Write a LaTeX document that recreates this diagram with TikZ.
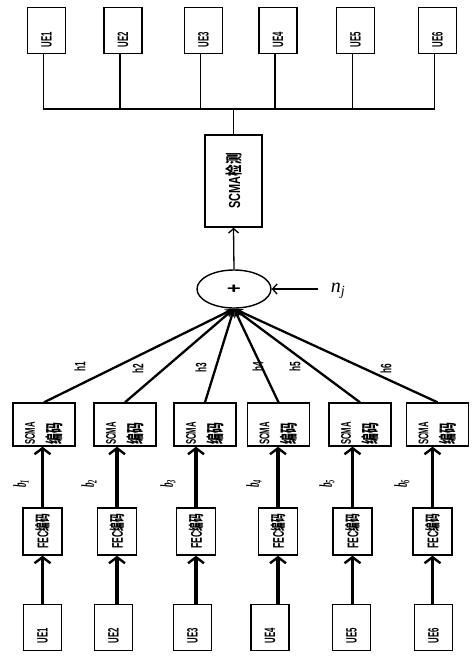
\documentclass[tikz,border=0pt]{standalone}
\usepackage{fontspec}
\setmainfont{Liberation Sans}
\newfontfamily\cjk{Noto Sans CJK SC}
\newfontfamily\serif{Liberation Serif}
\usetikzlibrary{shapes.geometric,arrows.meta}
\newcommand{\vt}[2][0.6]{\scalebox{1}[#1]{\rotatebox{90}{#2}}}
\newcommand{\fs}[1]{\fontsize{#1}{#1}\selectfont}
\tikzset{
  box/.style={draw, line width=1.4pt, inner sep=0pt},
  uebox/.style={box, minimum width=38pt, minimum height=46pt},
  encbox/.style={box, minimum width=62pt, minimum height=43pt},
  fecbox/.style={box, minimum width=39pt, minimum height=47pt},
  thinline/.style={line width=1.3pt},
  thinarrow/.style={line width=1.3pt, -{Straight Barb[length=4.5pt,width=10pt]}},
  fatarrow/.style={line width=3.8pt, -{Straight Barb[length=6pt,width=16pt,line width=2.4pt]}},
  harrow/.style={line width=2.3pt, -{Stealth[length=9pt,width=7pt]}},
  lbl/.style={inner sep=0pt}
}
\begin{document}
\begin{tikzpicture}[x=1pt,y=-1pt]
\useasboundingbox (0,0) rectangle (474,657);
% top UEs
\foreach \i/\x in {1/46.5,2/123,3/203.5,4/278,5/355.5,6/437.5}
  \node[uebox, label={[lbl,yshift=-9pt]center:{\vt[0.52]{\fs{15}\bfseries UE\i}}}] (uet\i) at (\x,30.5) {};
% detector
\node[box, minimum width=57pt, minimum height=92pt] (det) at (233.5,181)
  {\vt[0.68]{\fs{16}\bfseries SCMA{\cjk\bfseries\fs{17}检测}}};
\coordinate (bus) at (235,109);
\draw[thinline] (det.north) -- (det.north |- bus);
\foreach \i in {1,...,6}
  \draw[thinline] ([xshift=-3pt]uet\i.south) |- (bus);
% sum
\node[ellipse, draw, line width=1.4pt, minimum width=74pt, minimum height=38pt, inner sep=0pt] (sum) at (234,289)
  {\scalebox{1}[0.6]{\fs{24}\bfseries +}};
\draw[thinarrow] (sum.north) -- (det.south);
\coordinate (nsrc) at (318,289);
\draw[thinarrow] (nsrc) -- (sum.east);
\node[lbl] (nj) at (338,291) {\fs{20}\serif\itshape n\textsubscript{j}};
% encoders
\foreach \i/\x in {1/44,2/125,3/205,4/278.5,5/360,6/437.5}
  \node[encbox,
    label={[lbl,xshift=-14pt,yshift=-9pt]center:{\vt[0.55]{\fs{14}\bfseries SCMA}}},
    label={[lbl,xshift=10pt,yshift=-9pt]center:{\vt[0.6]{\cjk\bfseries\fs{18}编码}}}] (enc\i) at (\x,424.5) {};
\foreach \i in {1,...,6}
  \draw[harrow] (enc\i.north) -- (sum.south);
% h labels
\foreach \i/\x/\y in {1/80/367,2/138/369,3/201/368,4/258/367,5/295/367,6/386/369}
  \node[lbl] (h\i) at (\x,\y) {\vt[0.55]{\fs{15}\bfseries h\i}};
% FEC
\foreach \i/\x in {1/42.5,2/117,3/196,4/278,5/352.5,6/432.5}
  \node[fecbox] (fec\i) at (\x,531.5) {\vt[0.56]{\fs{15.5}\bfseries FEC{\cjk\bfseries 编码}}};
% bottom UEs
\foreach \i/\x in {1/42.5,2/113.5,3/192.5,4/270,5/351.5,6/433.5}
  \node[uebox, label={[lbl,yshift=-8pt]center:{\vt[0.52]{\fs{15}\bfseries UE\i}}}] (ueb\i) at (\x,627.5) {};
\foreach \i in {1,...,6} {
  \draw[fatarrow] (fec\i.south |- ueb\i.north) -- (fec\i.south);
  \draw[fatarrow] (fec\i.north) -- (fec\i.north |- enc\i.south);
}
% b labels
\foreach \i/\x in {1/21,2/89,3/168,4/254,5/327,6/402}
  \node[lbl] (b\i) at (\x,484) {\vt[0.5]{\fs{18}\serif\bfseries\itshape b\textsubscript{\i}}};
\end{tikzpicture}
\end{document}
